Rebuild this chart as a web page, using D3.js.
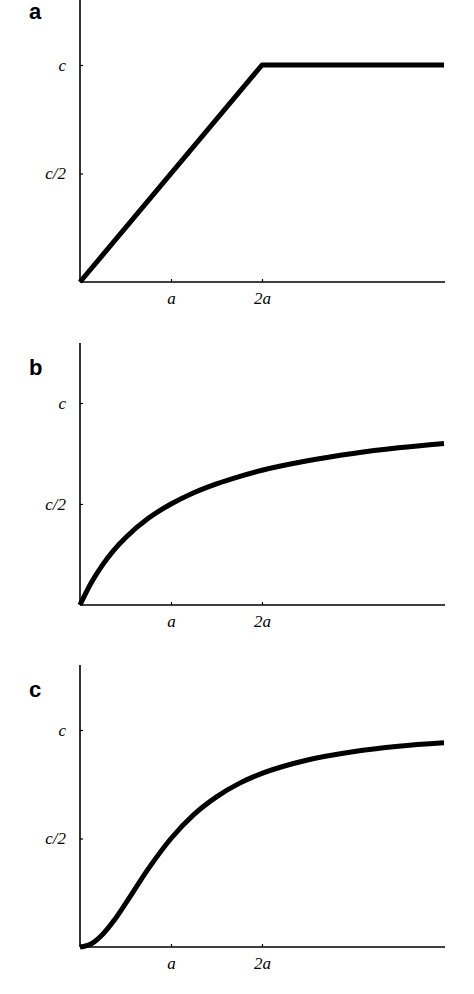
<!DOCTYPE html>
<html><head><meta charset="utf-8">
<script src="https://cdn.jsdelivr.net/npm/d3@7"></script>
<style>body{margin:0;background:#fff}</style></head>
<body><svg id="s" width="474" height="994"></svg>
<script>
const xs = [0,0.125,0.25,0.375,0.5,0.75,1,1.25,1.5,1.75,2,2.5,3,3.5,4];
const seriesA_x = [0,2,4];
const seriesA_y = [0,1,1];
const seriesB = [0,0.111,0.2,0.273,0.333,0.429,0.5,0.556,0.6,0.636,0.667,0.714,0.75,0.778,0.8];
const seriesC = [0,0.015,0.059,0.123,0.2,0.36,0.5,0.61,0.692,0.754,0.8,0.862,0.9,0.925,0.941];
const xTicks = [1,2], xTickLabels = ["a","2a"];
const yTicks = [0.5,1], yTickLabels = ["c/2","c"];
const panelLabels = ["a","b","c"];

const svg = d3.select("#s");
const panels = [
  {top:0, base:282, cY:65, pts: seriesA_x.map((x,i)=>[x,seriesA_y[i]]), curve:d3.curveLinear},
  {top:343, base:605, cY:403, pts: xs.map((x,i)=>[x,seriesB[i]]), curve:d3.curveMonotoneX},
  {top:665, base:947, cY:730, pts: xs.map((x,i)=>[x,seriesC[i]]), curve:d3.curveMonotoneX}
];
const x = d3.scaleLinear().domain([0,4]).range([80,444]);
panels.forEach((p,k)=>{
  const topVal = (p.base-p.top)/(p.base-p.cY);
  const y = d3.scaleLinear().domain([0,topVal]).range([p.base,p.top]);
  const g = svg.append("g");
  g.append("path").datum(p.pts)
    .attr("d", d3.line().x(d=>x(d[0])).y(d=>y(d[1])).curve(p.curve))
    .attr("fill","none").attr("stroke","#000").attr("stroke-width",5).attr("stroke-linejoin","round");
  const xa = g.append("g").attr("transform",`translate(0,${p.base})`)
    .call(d3.axisBottom(x).tickValues(xTicks).tickSize(-3).tickSizeOuter(0).tickFormat((d,i)=>xTickLabels[i]));
  const ya = g.append("g").attr("transform",`translate(80,0)`)
    .call(d3.axisLeft(y).tickValues(yTicks).tickSize(-3).tickSizeOuter(0).tickFormat((d,i)=>yTickLabels[i]));
  [xa,ya].forEach(a=>{
    a.attr("font-size",null).attr("font-family",null);
    a.select(".domain").attr("stroke-width",1.6);
    a.selectAll("line").attr("stroke-width",1.2);
    a.selectAll("text").style("font-family","'Liberation Serif', serif").style("font-style","italic").style("font-size","17px").attr("fill","#000");
  });
  xa.selectAll("text").attr("dy","1.1em");
  ya.selectAll("text").attr("x",-14).attr("dy","0.3em");
  ya.select(".domain").attr("d",`M0,${p.base}V${p.top}`);
  xa.select(".domain").attr("d",`M80,0H445`);
  g.append("text").text(panelLabels[k]).attr("x",29).attr("y",p.top+(k==0?19:32))
    .style("font-family","'Liberation Sans', Arial, sans-serif").style("font-weight","bold").style("font-size","22px");
});
</script></body></html>
